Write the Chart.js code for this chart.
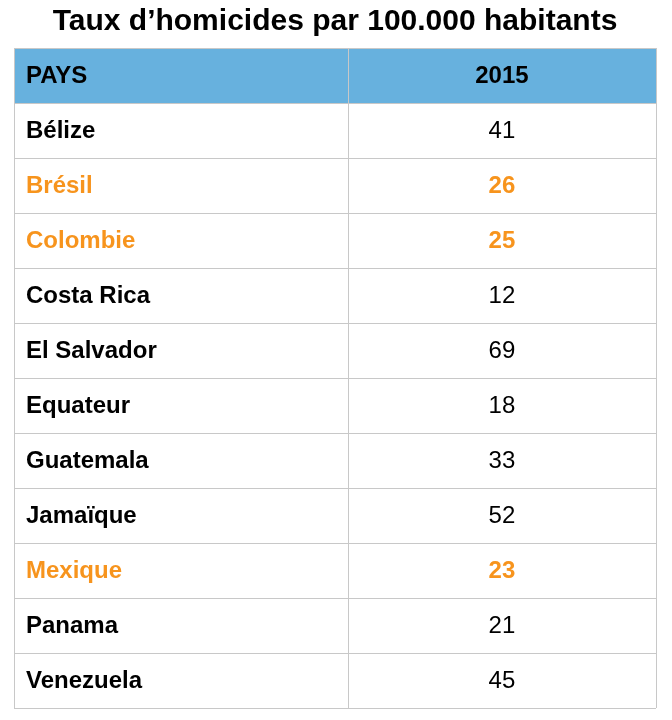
<!DOCTYPE html>
<html><head><meta charset="utf-8">
<script src="https://cdn.jsdelivr.net/npm/chart.js@4/dist/chart.umd.min.js"></script>
<style>html,body{margin:0;padding:0;background:#fff}#wrap{width:672px;height:720px}</style>
</head><body><div id="wrap"><canvas id="c"></canvas></div>
<script>
const titleText = "Taux d’homicides par 100.000 habitants";
const headers = ["PAYS", "2015"];
const countries = ["Bélize","Brésil","Colombie","Costa Rica","El Salvador","Equateur","Guatemala","Jamaïque","Mexique","Panama","Venezuela"];
const values = [41,26,25,12,69,18,33,52,23,21,45];
const highlighted = ["Brésil","Colombie","Mexique"];
const colDivide = 1.04, valueCol = 1.52;
const FONT = "'Liberation Sans', Arial, sans-serif";

const rows = ["header", ...countries];
const headerBar = rows.map((r,i)=> i===0 ? [0,2] : null);

const tablePlugin = {
  id:'table',
  afterDatasetsDraw(chart){
    const {ctx, chartArea:a, scales:{x,y}} = chart;
    ctx.save();
    ctx.strokeStyle = '#c8c8c8'; ctx.lineWidth = 1;
    const bandH = (y.getPixelForValue(1)-y.getPixelForValue(0));
    for(let i=0;i<=rows.length;i++){
      const py = Math.round(y.getPixelForValue(i) - bandH/2)+0.5;
      ctx.beginPath(); ctx.moveTo(a.left,py); ctx.lineTo(a.right,py); ctx.stroke();
    }
    [0,colDivide,2].forEach(v=>{
      const px = Math.round(x.getPixelForValue(v))+0.5;
      ctx.beginPath(); ctx.moveTo(px,a.top); ctx.lineTo(px,a.bottom); ctx.stroke();
    });
    ctx.textBaseline='middle';
    ctx.font = "bold 24px "+FONT; ctx.fillStyle='#000';
    ctx.textAlign='left'; ctx.fillText(headers[0], x.getPixelForValue(0)+12, y.getPixelForValue(0)+1);
    ctx.textAlign='center'; ctx.fillText(headers[1], x.getPixelForValue(valueCol), y.getPixelForValue(0)+1);
    countries.forEach((c,i)=>{
      const hl = highlighted.includes(c);
      const py = y.getPixelForValue(i+1)+1;
      ctx.fillStyle = hl ? '#f7941d' : '#000';
      ctx.font = "bold 24px "+FONT; ctx.textAlign='left';
      ctx.fillText(c, x.getPixelForValue(0)+12, py);
      ctx.font = (hl?"bold ":"")+"24px "+FONT; ctx.textAlign='center';
      ctx.fillText(String(values[i]), x.getPixelForValue(valueCol), py);
    });
    ctx.restore();
  }
};

new Chart(document.getElementById('c'), {
  type:'bar',
  data:{labels:rows, datasets:[{data:headerBar, backgroundColor:'#67b1de', borderWidth:0, barPercentage:1, categoryPercentage:1}]},
  options:{
    indexAxis:'y', responsive:true, maintainAspectRatio:false, animation:false,
    layout:{padding:{left:14,right:16,top:0,bottom:12}},
    scales:{
      x:{type:'linear', min:0, max:2, display:false},
      y:{type:'category', display:false}
    },
    plugins:{
      legend:{display:false}, tooltip:{enabled:false},
      title:{display:true, text:titleText, color:'#000', font:{family:FONT, size:30, weight:'bold', lineHeight:1.2}, padding:{top:4, bottom:8}}
    }
  },
  plugins:[tablePlugin]
});
</script></body></html>
